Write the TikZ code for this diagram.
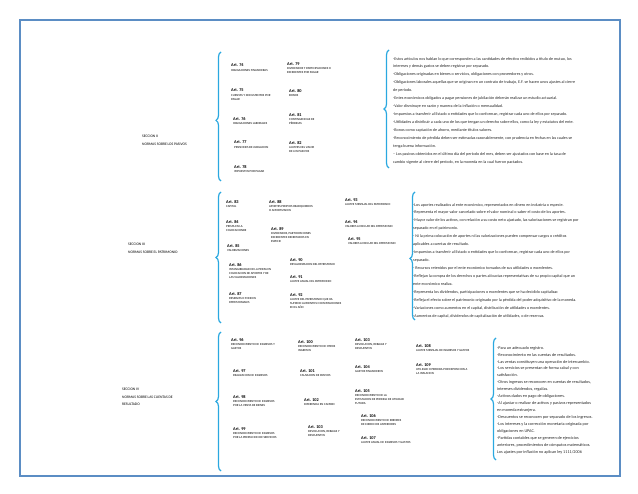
\documentclass[tikz,border=0pt]{standalone}
\usepackage{fontspec}
\setmainfont{Carlito}
\usetikzlibrary{decorations.pathreplacing}
\definecolor{frameblue}{HTML}{5B8DC4}
\definecolor{bracecyan}{HTML}{2AA8E0}
\begin{document}
\begin{tikzpicture}[x=1pt,y=-1pt,
  art/.style={anchor=north west,inner sep=0pt,align=left,font=\fontsize{3.1}{3.8}\selectfont},
  sec/.style={anchor=north west,inner sep=0pt,align=left,font=\fontsize{3.7}{7.5}\selectfont},
  txt/.style={anchor=north west,inner sep=0pt,align=left,font=\fontsize{4.1}{7.95}\selectfont,text=black!85},
  txtb/.style={anchor=north west,inner sep=0pt,align=left,font=\fontsize{4.2}{6.95}\selectfont,text=black!85},
  brc/.style={draw=bracecyan,line width=1.2pt,decorate,decoration={brace,amplitude=5pt}}]
\newcommand{\arttitle}[1]{{\bfseries\fontsize{4.3}{5}\selectfont #1}\\[0.6pt]}
\useasboundingbox (0,0) rectangle (638,494);
\fill[white] (0,0) rectangle (638,494);
\draw[frameblue,line width=1.4pt] (20,20) rectangle (620,476);

% ---------- Section II
\node[sec] (s1) at (142,135) {SECCION II\\NORMAS SOBRE LOS PASIVOS};
\coordinate (b1t) at (221,52); \coordinate (b1b) at (221,181);
\draw[brc,decoration={aspect=0.47}] (b1b) -- (b1t);
\node[art] (a74) at (231,64) {\arttitle{Art. 74}OBLIGACIONES FINANCIERAS};
\node[art] (a79) at (287,62) {\arttitle{Art. 79}DIVIDENDOS Y PARTICIPACIONES O\\EXCEDENTES POR PAGAR};
\node[art] (a75) at (231,89) {\arttitle{Art. 75}CUENTAS Y DOCUMENTOS POR\\PAGAR};
\node[art] (a80) at (289,89) {\arttitle{Art. 80}BONOS};
\node[art] (a76) at (233,117) {\arttitle{Art. 76}OBLIGACIONES LABORALES};
\node[art] (a81) at (289,113) {\arttitle{Art. 81}CONTINGENCIAS DE\\PÉRDIDAS};
\node[art] (a77) at (234,141) {\arttitle{Art. 77}PENSIONES DE JUBILACION};
\node[art] (a82) at (289,141) {\arttitle{Art. 82}AJUSTES DEL VALOR\\DE LOS PASIVOS};
\node[art] (a78) at (234,165) {\arttitle{Art. 78}IMPUESTOS POR PAGAR};
\coordinate (r1t) at (389,50); \coordinate (r1b) at (389,168);
\draw[brc] (r1b) -- (r1t);
\node[txt] (t1) at (393,57) {-Estos artículos nos hablan lo que corresponden a las cantidades de efectivo recibidos a título de mutuo, los\\
intereses y demás gastos se deben registrar por separado.\\
-Obligaciones originadas en bienes o servicios, obligaciones con proveedores y otros.\\
-Obligaciones laborales aquellas que se originan en un contrato de trabajo, E.F. se hacen unos ajustes al cierre\\
de período.\\
-Entes económicos obligados a pagar pensiones de jubilación deberán realizar un estudio actuarial.\\
-Valor disminuye en razón y manera de la inflación o mensualidad.\\
-Impuestos a transferir al Estado o entidades que lo conforman, registrar cada uno de ellos por separado.\\
-Utilidades a distribuir a cada uno de los que tengan un derecho sobre ellos, como la ley y estatutos del ente.\\
-Bonos como captación de ahorro, mediante títulos valores.\\
-Reconocimiento de pérdida deben ser estimadas razonablemente, con prudencia en fechas en las cuales se\\
tenga buena información.\\
– Los pasivos obtenidos en el último día del período del mes, deben ser ajustados con base en la tasa de\\
cambio vigente al cierre del período, en la moneda en la cual fueron pactados.};

% ---------- Section III
\node[sec] (s2) at (128,243) {SECCION III\\NORMAS SOBRE EL PATRIMONIO};
\coordinate (b2t) at (221,192); \coordinate (b2b) at (221,323);
\draw[brc,decoration={aspect=0.5}] (b2b) -- (b2t);
\node[art] (a83) at (226,200) {\arttitle{Art. 83}CAPITAL};
\node[art] (a88) at (269,200) {\arttitle{Art. 88}APORTES PROPIOS READQUIRIDOS\\O AMORTIZADOS};
\node[art] (a84) at (226,220) {\arttitle{Art. 84}PRIMA EN LA\\COLOCACIONDE};
\node[art] (a89) at (271,227) {\arttitle{Art. 89}DIVIDENDOS, PARTICIPACIONES\\EXCEDENTES DECRETADOS EN\\ESPECIE};
\node[art] (a85) at (227,244) {\arttitle{Art. 85}VALORIZACIONES};
\node[art] (a86) at (229,263) {\arttitle{Art. 86}INTANGIBILIDAD DE LA PRIMA EN\\COLOCACION DE APORTES Y DE\\LAS VALORIZACIONES};
\node[art] (a87) at (229,292) {\arttitle{Art. 87}RESERVAS O FONDOS\\PATRIMONIALES};
\node[art] (a90) at (290,258) {\arttitle{Art. 90}REVALORIZACION DEL PATRIMONIO};
\node[art] (a91) at (290,275) {\arttitle{Art. 91}AJUSTE ANUAL DEL PATRIMONIO};
\node[art] (a92) at (290,293) {\arttitle{Art. 92}AJUSTE DEL PATRIMONIO QUE HA\\SUFRIDO AUMENTOS O DISMINUCIONES\\EN EL AÑO};
\node[art] (a93) at (345,198) {\arttitle{Art. 93}AJUSTE MENSUAL DEL PATRIMONIO};
\node[art] (a94) at (345,220) {\arttitle{Art. 94}VALORES A EXCLUIR DEL PATRIMONIO};
\node[art] (a95) at (348,237) {\arttitle{Art. 95}VALORES A EXCLUIR DEL PATRIMONIO};
\coordinate (r2t) at (415,192); \coordinate (r2b) at (415,320);
\draw[brc,decoration={aspect=0.48}] (r2b) -- (r2t);
\node[txt] (t2) at (413,203) {-Los aportes realizados al ente económico, representados en dinero en industria o especie.\\
-Representa el mayor valor cancelado sobre el valor nominal o saber el costo de los aportes.\\
-Mayor valor de los activos, con relación a su costo neto ajustado, las valorizaciones se registran por\\
separado en el patrimonio.\\
- Ni la prima colocación de aportes ni las valorizaciones pueden compensar cargos o créditos\\
aplicables a cuentas de resultado.\\
-Impuestos a transferir al Estado o entidades que lo conforman, registrar cada uno de ellos por\\
separado.\\
- Recursos retenidos por el ente económico tomados de sus utilidades o excedentes.\\
-Reflejan la compra de los derechos o partes alícuotas representativas de su propio capital que un\\
ente económico realiza.\\
-Representa los dividendos, participaciones o excedentes que se ha decidido capitalizar.\\
-Refleja el efecto sobre el patrimonio originado por la pérdida del poder adquisitivo de la moneda.\\
-Variaciones como aumentos en el capital, distribución de utilidades o excedentes.\\
-Aumentos de capital, dividendos de capitalización de utilidades, o de reservas.};

% ---------- Section IV
\node[sec] (s3) at (122,388) {SECCION IV\\NORMAS SOBRE LAS CUENTAS DE\\RESULTADO};
\coordinate (b3t) at (221,332); \coordinate (b3b) at (221,471);
\draw[brc,decoration={aspect=0.5}] (b3b) -- (b3t);
\node[art] (a96) at (231,338) {\arttitle{Art. 96}RECONOCIMIENTO DE INGRESOS Y\\GASTOS};
\node[art] (a100) at (298,340) {\arttitle{Art. 100}RECONOCIMIENTO DE OTROS\\INGRESOS};
\node[art] (a103a) at (355,338) {\arttitle{Art. 103}DEVOLUCION, REBAJAS Y\\DESCUENTOS};
\node[art] (a108) at (416,344) {\arttitle{Art. 108}AJUSTE MENSUAL DE INGRESOS Y GASTOS};
\node[art] (a97) at (233,369) {\arttitle{Art. 97}REALIZACION DE INGRESOS};
\node[art] (a101) at (300,369) {\arttitle{Art. 101}CAUSACION DE PASIVOS};
\node[art] (a104) at (355,365) {\arttitle{Art. 104}GASTOS FINANCIEROS};
\node[art] (a109) at (416,363) {\arttitle{Art. 109}UTILIDAD O PERDIDA POR EXPOSICION A\\LA INFLACION};
\node[art] (a98) at (233,395) {\arttitle{Art. 98}RECONOCIMIENTO DE INGRESOS\\POR LA VENTA DE BIENES};
\node[art] (a102) at (304,398) {\arttitle{Art. 102}DIFERENCIA EN CAMBIO};
\node[art] (a105) at (355,389) {\arttitle{Art. 105}RECONOCIMIENTO DE LA\\ESTIMACION DE PERDIDA DE UTILIDAD\\FUTURA};
\node[art] (a106) at (361,414) {\arttitle{Art. 106}RECONOCIMIENTO DE ERRORES\\DE EJERCICIOS ANTERIORES};
\node[art] (a99) at (233,427) {\arttitle{Art. 99}RECONOCIMIENTO DE INGRESOS\\POR LA PRESTACION DE SERVICIOS};
\node[art] (a103b) at (308,425) {\arttitle{Art. 103}DEVOLUCION, REBAJAS Y\\DESCUENTOS};
\node[art] (a107) at (361,436) {\arttitle{Art. 107}AJUSTE ANUAL DE INGRESOS Y GASTOS};
\coordinate (r3t) at (496,338); \coordinate (r3b) at (496,460);
\draw[brc,decoration={aspect=0.5}] (r3b) -- (r3t);
\node[txtb] (t3) at (497,346) {-Para un adecuado registro.\\
-Reconocimiento en las cuentas de resultados.\\
-Las ventas constituyen una operación de intercambio.\\
-Los servicios se presentan de forma cabal y con\\
satisfacción.\\
-Otros ingresos se reconocen en cuentas de resultados,\\
intereses dividendos, regalías.\\
-Activos dados en pago de obligaciones.\\
-Al ajustar o realizar de activos y pasivos representados\\
en moneda extranjera.\\
-Descuentos se reconocen por separado de los ingresos.\\
-Los intereses y la corrección monetaria originada por\\
obligaciones en UPAC.\\
-Partidas contables que se generen de ejercicios\\
anteriores, procedimientos de cómputos matemáticos.\\
Los ajustes por inflación no aplican ley 1111/2006};
\end{tikzpicture}
\end{document}
